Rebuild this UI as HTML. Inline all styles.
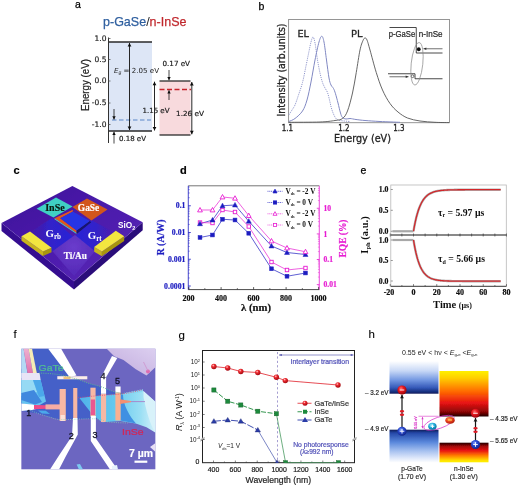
<!DOCTYPE html>
<html><head><meta charset="utf-8"><title>Figure</title>
<style>
html,body{margin:0;padding:0;background:#fff;}
svg{display:block;}
</style></head>
<body>
<svg width="520" height="486" viewBox="0 0 520 486">
<defs>
<filter id="soft" x="-2%" y="-2%" width="104%" height="104%"><feGaussianBlur stdDeviation="0.5"/></filter>
<linearGradient id="cTop" x1="0" y1="0" x2="1" y2="1"><stop offset="0" stop-color="#3c1298"/><stop offset="0.5" stop-color="#4c1cac"/><stop offset="1" stop-color="#5a28b8"/></linearGradient>
<radialGradient id="cTi" cx="0.5" cy="0.3" r="0.7"><stop offset="0" stop-color="#6a3ccc"/><stop offset="1" stop-color="#5428b6"/></radialGradient>
<linearGradient id="cG" x1="0" y1="0.5" x2="1" y2="0.5"><stop offset="0" stop-color="#3a1cb4" stop-opacity="0.1"/><stop offset="0.45" stop-color="#2c24d0" stop-opacity="0.9"/><stop offset="1" stop-color="#2424dc"/></linearGradient>
<linearGradient id="cG2" x1="1" y1="0.5" x2="0" y2="0.5"><stop offset="0" stop-color="#3a1cb4" stop-opacity="0.1"/><stop offset="0.45" stop-color="#2c24d0" stop-opacity="0.9"/><stop offset="1" stop-color="#2424dc"/></linearGradient>
<clipPath id="fClip"><rect x="21.2" y="348.5" width="134.4" height="121.1"/></clipPath>
<linearGradient id="fPink" x1="0" y1="0" x2="0" y2="1"><stop offset="0" stop-color="#eeb0d0"/><stop offset="1" stop-color="#e272ac"/></linearGradient>
<linearGradient id="fLav" x1="0" y1="1" x2="1" y2="0"><stop offset="0" stop-color="#c0aadc"/><stop offset="1" stop-color="#dccff0"/></linearGradient>
<linearGradient id="fCy" x1="0" y1="0" x2="1" y2="0"><stop offset="0" stop-color="#50b2ea"/><stop offset="0.45" stop-color="#62c8ee"/><stop offset="0.8" stop-color="#9adff4"/><stop offset="1" stop-color="#d4f0fa"/></linearGradient>
<clipPath id="gClip"><rect x="200" y="340" width="160" height="122.7"/></clipPath>
<radialGradient id="gBall" cx="0.38" cy="0.32" r="0.7"><stop offset="0" stop-color="#ffd0d0"/><stop offset="0.35" stop-color="#ee2a30"/><stop offset="1" stop-color="#a00810"/></radialGradient>
<linearGradient id="hB1" x1="0" y1="0" x2="0" y2="1"><stop offset="0" stop-color="#ffffff"/><stop offset="0.3" stop-color="#c8d8f6"/><stop offset="0.58" stop-color="#7498e2"/><stop offset="0.82" stop-color="#3458b8"/><stop offset="0.95" stop-color="#142a78"/><stop offset="1" stop-color="#0c1c58"/></linearGradient>
<linearGradient id="hB2" x1="0" y1="0" x2="0" y2="1"><stop offset="0" stop-color="#0c1c58"/><stop offset="0.1" stop-color="#2448a8"/><stop offset="0.38" stop-color="#5a88dc"/><stop offset="0.65" stop-color="#a8c2f0"/><stop offset="0.85" stop-color="#dce6fa"/><stop offset="1" stop-color="#ffffff"/></linearGradient>
<linearGradient id="hR1" x1="0" y1="0" x2="0" y2="1"><stop offset="0" stop-color="#fff000"/><stop offset="0.15" stop-color="#ffd000"/><stop offset="0.45" stop-color="#ff6a00"/><stop offset="0.7" stop-color="#e81414"/><stop offset="0.9" stop-color="#8a0606"/><stop offset="1" stop-color="#200000"/></linearGradient>
<linearGradient id="hR2" x1="0" y1="0" x2="0" y2="1"><stop offset="0" stop-color="#200000"/><stop offset="0.18" stop-color="#a00808"/><stop offset="0.4" stop-color="#e81414"/><stop offset="0.65" stop-color="#ff7a00"/><stop offset="0.9" stop-color="#ffe000"/><stop offset="1" stop-color="#fff200"/></linearGradient>
<radialGradient id="hRed" cx="0.4" cy="0.35" r="0.7"><stop offset="0" stop-color="#ff7070"/><stop offset="0.4" stop-color="#e81820"/><stop offset="1" stop-color="#8a0008"/></radialGradient>
<radialGradient id="hBlu" cx="0.4" cy="0.35" r="0.7"><stop offset="0" stop-color="#8aa8ff"/><stop offset="0.4" stop-color="#2a4ad0"/><stop offset="1" stop-color="#102080"/></radialGradient>
<radialGradient id="hCy" cx="0.4" cy="0.35" r="0.7"><stop offset="0" stop-color="#a0f0ff"/><stop offset="0.5" stop-color="#20a8d8"/><stop offset="1" stop-color="#0a6a98"/></radialGradient>
<radialGradient id="hOr" cx="0.4" cy="0.35" r="0.7"><stop offset="0" stop-color="#ff9a50"/><stop offset="0.5" stop-color="#e8401c"/><stop offset="1" stop-color="#a81808"/></radialGradient>
</defs>
<rect width="520" height="486" fill="#fff"/>
<g filter="url(#soft)">
<g id="pa">
<text x="75" y="7.9" font-size="10.5" font-family='"Liberation Sans", sans-serif' fill="#000" stroke="#000" stroke-width="0.25">a</text>
<text x="103" y="25.5" font-size="13.5" font-family='"Liberation Sans", sans-serif' textLength="83.5" lengthAdjust="spacingAndGlyphs" stroke-width="0.25"><tspan fill="#2f5f9f" stroke="#2f5f9f">p-GaSe</tspan><tspan fill="#222">/</tspan><tspan fill="#c0282d" stroke="#c0282d">n-InSe</tspan></text>
<rect x="109" y="42" width="43" height="89" fill="#dde6f6"/>
<rect x="159.5" y="81" width="31" height="54" fill="#f8dadd"/>
<line x1="108.5" y1="37.5" x2="108.5" y2="143" stroke="#333" stroke-width="1"/>
<line x1="108.5" y1="38.5" x2="110.5" y2="38.5" stroke="#555" stroke-width="0.8"/>
<text x="106.5" y="40.9" font-size="7.5" font-family='"DejaVu Sans", "Liberation Sans", sans-serif' fill="#222" text-anchor="end" stroke="#222" stroke-width="0.2">1.0</text>
<line x1="108.5" y1="59.5" x2="110.5" y2="59.5" stroke="#555" stroke-width="0.8"/>
<text x="106.5" y="61.9" font-size="7.5" font-family='"DejaVu Sans", "Liberation Sans", sans-serif' fill="#222" text-anchor="end" stroke="#222" stroke-width="0.2">0.5</text>
<line x1="108.5" y1="81" x2="110.5" y2="81" stroke="#555" stroke-width="0.8"/>
<text x="106.5" y="83.4" font-size="7.5" font-family='"DejaVu Sans", "Liberation Sans", sans-serif' fill="#222" text-anchor="end" stroke="#222" stroke-width="0.2">0.0</text>
<line x1="108.5" y1="103" x2="110.5" y2="103" stroke="#555" stroke-width="0.8"/>
<text x="106.5" y="105.4" font-size="7.5" font-family='"DejaVu Sans", "Liberation Sans", sans-serif' fill="#222" text-anchor="end" stroke="#222" stroke-width="0.2">-0.5</text>
<line x1="108.5" y1="124.5" x2="110.5" y2="124.5" stroke="#555" stroke-width="0.8"/>
<text x="106.5" y="126.9" font-size="7.5" font-family='"DejaVu Sans", "Liberation Sans", sans-serif' fill="#222" text-anchor="end" stroke="#222" stroke-width="0.2">-1.0</text>
<text x="88.5" y="85" font-size="10" font-family='"Liberation Sans", sans-serif' fill="#222" text-anchor="middle" transform="rotate(-90 88.5 85)" textLength="52" lengthAdjust="spacingAndGlyphs" stroke="#222" stroke-width="0.2">Energy (eV)</text>
<line x1="109" y1="42" x2="152" y2="42" stroke="#2a2a2a" stroke-width="1.3"/>
<line x1="109" y1="131" x2="152" y2="131" stroke="#2a2a2a" stroke-width="1.3"/>
<line x1="159.5" y1="81" x2="190.5" y2="81" stroke="#2a2a2a" stroke-width="1.3"/>
<line x1="159.5" y1="135" x2="190.5" y2="135" stroke="#2a2a2a" stroke-width="1.3"/>
<line x1="112" y1="120" x2="151" y2="120" stroke="#5b86c8" stroke-width="1.1" stroke-dasharray="4.5 2.5"/>
<line x1="159.5" y1="89.5" x2="191" y2="89.5" stroke="#c4202c" stroke-width="1.5" stroke-dasharray="5 2.5"/>
<line x1="129.5" y1="43" x2="129.5" y2="130" stroke="#111" stroke-width="0.9"/>
<polygon points="129.5,130 127.6,126.4 131.4,126.4" fill="#111"/>
<polygon points="129.5,43 131.4,46.6 127.6,46.6" fill="#111"/>
<line x1="114" y1="109" x2="114" y2="119.5" stroke="#111" stroke-width="0.8"/>
<polygon points="114,119.5 112.3,116.3 115.7,116.3" fill="#111"/>
<line x1="114" y1="143.5" x2="114" y2="131.7" stroke="#111" stroke-width="0.8"/>
<polygon points="114,131.7 115.7,134.9 112.3,134.9" fill="#111"/>
<line x1="169" y1="70" x2="169" y2="80.3" stroke="#111" stroke-width="0.8"/>
<polygon points="169,80.3 167.3,77.1 170.7,77.1" fill="#111"/>
<line x1="169" y1="100" x2="169" y2="90.3" stroke="#111" stroke-width="0.8"/>
<polygon points="169,90.3 170.7,93.5 167.3,93.5" fill="#111"/>
<line x1="154.5" y1="81.7" x2="154.5" y2="130.5" stroke="#111" stroke-width="0.9"/>
<polygon points="154.5,130.5 152.6,126.9 156.4,126.9" fill="#111"/>
<polygon points="154.5,81.7 156.4,85.3 152.6,85.3" fill="#111"/>
<line x1="191.8" y1="82" x2="191.8" y2="134.3" stroke="#111" stroke-width="0.9"/>
<polygon points="191.8,134.3 189.9,130.7 193.7,130.7" fill="#111"/>
<polygon points="191.8,82 193.7,85.6 189.9,85.6" fill="#111"/>
<text x="114" y="72.5" font-size="7" font-family='"DejaVu Sans", "Liberation Sans", sans-serif' fill="#222" textLength="45" lengthAdjust="spacingAndGlyphs"><tspan font-style="italic">E</tspan><tspan font-size="4.5" dy="1.5" font-style="italic">g</tspan><tspan dy="-1.5"> = 2.05 eV</tspan></text>
<text x="162.5" y="66.3" font-size="7" font-family='"DejaVu Sans", "Liberation Sans", sans-serif' fill="#222" textLength="27.5" lengthAdjust="spacingAndGlyphs" stroke="#222" stroke-width="0.2">0.17 eV</text>
<text x="142.5" y="112.5" font-size="7" font-family='"DejaVu Sans", "Liberation Sans", sans-serif' fill="#222" textLength="27" lengthAdjust="spacingAndGlyphs" stroke="#222" stroke-width="0.2">1.15 eV</text>
<text x="176" y="116.3" font-size="7" font-family='"DejaVu Sans", "Liberation Sans", sans-serif' fill="#222" textLength="28" lengthAdjust="spacingAndGlyphs" stroke="#222" stroke-width="0.2">1.26 eV</text>
<text x="119" y="140.5" font-size="7" font-family='"DejaVu Sans", "Liberation Sans", sans-serif' fill="#222" textLength="27" lengthAdjust="spacingAndGlyphs" stroke="#222" stroke-width="0.2">0.18 eV</text>
</g>
<g id="pb">
<text x="258.5" y="10" font-size="10.5" font-family='"Liberation Sans", sans-serif' fill="#000" stroke="#000" stroke-width="0.25">b</text>
<rect x="288.6" y="19.5" width="160.9" height="103.2" fill="none" stroke="#8a8a8a" stroke-width="0.9"/>
<path d="M288.75,115C289.29,114.17 290.96,111.67 292,110C293.04,108.33 293.92,107.5 295,105C296.08,102.5 297.25,98.75 298.5,95C299.75,91.25 301.25,87.33 302.5,82.5C303.75,77.67 304.96,71 306,66C307.04,61 307.92,56.5 308.75,52.5C309.58,48.5 310.29,44.58 311,42C311.71,39.42 312.33,36.83 313,37C313.67,37.17 314.25,39.17 315,43C315.75,46.83 316.67,55 317.5,60C318.33,65 319.17,69.25 320,73C320.83,76.75 321.67,80 322.5,82.5C323.33,85 324.17,86.33 325,88C325.83,89.67 326.75,90.5 327.5,92.5C328.25,94.5 328.88,97.5 329.5,100C330.12,102.5 330.58,105.17 331.25,107.5C331.92,109.83 332.67,112.12 333.5,114C334.33,115.88 335.17,117.67 336.25,118.75C337.33,119.83 337.71,120.04 340,120.5C342.29,120.96 348.33,121.33 350,121.5" fill="none" stroke="#9298cc" stroke-width="1" stroke-linejoin="round" stroke-dasharray="1.2 1"/>
<path d="M288.75,121.5C289.79,121 292.71,120.25 295,118.5C297.29,116.75 300.5,114.08 302.5,111C304.5,107.92 305.58,104.83 307,100C308.42,95.17 309.67,88.67 311,82C312.33,75.33 313.67,66.67 315,60C316.33,53.33 317.88,45.96 319,42C320.12,38.04 320.92,36.25 321.75,36.25C322.58,36.25 323.21,38.04 324,42C324.79,45.96 325.67,54 326.5,60C327.33,66 328.25,73.83 329,78C329.75,82.17 330.25,83.25 331,85C331.75,86.75 332.75,87.04 333.5,88.5C334.25,89.96 334.75,91.33 335.5,93.75C336.25,96.17 337.17,99.79 338,103C338.83,106.21 339.75,110.58 340.5,113C341.25,115.42 341.58,116.5 342.5,117.5C343.42,118.5 344.75,118.83 346,119C347.25,119.17 348.33,118.42 350,118.5C351.67,118.58 353.5,119.17 356,119.5C358.5,119.83 361,120.17 365,120.5C369,120.83 374.17,121.2 380,121.5C385.83,121.8 396.67,122.17 400,122.3" fill="none" stroke="#8088c2" stroke-width="1" stroke-linejoin="round"/>
<path d="M288.75,122.3C293.96,122.25 312.29,122.3 320,122C327.71,121.7 331.25,121.08 335,120.5C338.75,119.92 340.42,120.08 342.5,118.5C344.58,116.92 345.83,115.25 347.5,111C349.17,106.75 351.04,99.42 352.5,93C353.96,86.58 355,79.67 356.25,72.5C357.5,65.33 358.88,55.33 360,50C361.12,44.67 362.17,42.5 363,40.5C363.83,38.5 364.33,38.08 365,38C365.67,37.92 366.17,38 367,40C367.83,42 368.46,44.58 370,50C371.54,55.42 374.17,65.83 376.25,72.5C378.33,79.17 380.21,84.83 382.5,90C384.79,95.17 387.42,99.83 390,103.5C392.58,107.17 395.08,109.58 398,112C400.92,114.42 403.83,116.5 407.5,118C411.17,119.5 415.42,120.28 420,121C424.58,121.72 430.17,122.03 435,122.3C439.83,122.57 446.67,122.55 449,122.6" fill="none" stroke="#555" stroke-width="0.9" stroke-linejoin="round"/>
<text x="297.5" y="37" font-size="9.5" font-family='"DejaVu Sans", "Liberation Sans", sans-serif' fill="#222" textLength="11.5" lengthAdjust="spacingAndGlyphs" stroke="#222" stroke-width="0.3">EL</text>
<text x="351" y="37" font-size="9.5" font-family='"DejaVu Sans", "Liberation Sans", sans-serif' fill="#222" textLength="11.5" lengthAdjust="spacingAndGlyphs" stroke="#222" stroke-width="0.3">PL</text>
<text x="287.5" y="131.3" font-size="8" font-family='"DejaVu Sans", "Liberation Sans", sans-serif' fill="#222" text-anchor="middle" textLength="11.3" lengthAdjust="spacingAndGlyphs" stroke="#222" stroke-width="0.3">1.1</text>
<text x="344" y="131.3" font-size="8" font-family='"DejaVu Sans", "Liberation Sans", sans-serif' fill="#222" text-anchor="middle" textLength="11.3" lengthAdjust="spacingAndGlyphs" stroke="#222" stroke-width="0.3">1.2</text>
<text x="399" y="131.3" font-size="8" font-family='"DejaVu Sans", "Liberation Sans", sans-serif' fill="#222" text-anchor="middle" textLength="11.3" lengthAdjust="spacingAndGlyphs" stroke="#222" stroke-width="0.3">1.3</text>
<text x="362.5" y="141.8" font-size="10.5" font-family='"DejaVu Sans", "Liberation Sans", sans-serif' fill="#222" text-anchor="middle" textLength="57" lengthAdjust="spacingAndGlyphs" stroke="#222" stroke-width="0.3">Energy (eV)</text>
<text x="285" y="70" font-size="9.8" font-family='"DejaVu Sans", "Liberation Sans", sans-serif' fill="#222" text-anchor="middle" transform="rotate(-90 285 70)" textLength="93" lengthAdjust="spacingAndGlyphs" stroke="#222" stroke-width="0.3">Intensity (arb.units)</text>
<polyline points="389.5,27.5 416.25,27.5 416.25,53 442.5,53" fill="none" stroke="#333" stroke-width="0.9" stroke-linejoin="round"/>
<polyline points="388,73.75 415,73.75 415,78.75 442.5,78.75" fill="none" stroke="#333" stroke-width="0.9" stroke-linejoin="round"/>
<text x="388.75" y="37.3" font-size="9.2" font-family='"Liberation Sans", sans-serif' fill="#222" textLength="26.5" lengthAdjust="spacingAndGlyphs" stroke="#222" stroke-width="0.2">p-GaSe</text>
<text x="418.75" y="37.3" font-size="9.2" font-family='"Liberation Sans", sans-serif' fill="#222" textLength="23.75" lengthAdjust="spacingAndGlyphs" stroke="#222" stroke-width="0.2">n-InSe</text>
<circle cx="418.75" cy="49.25" r="1.9" fill="#111"/>
<circle cx="412.5" cy="76.25" r="1.4" fill="#fff" stroke="#333" stroke-width="0.7"/>
<line x1="442.5" y1="48.75" x2="423.5" y2="48.75" stroke="#333" stroke-width="0.7"/>
<polygon points="423.5,48.75 426.3,47.45 426.3,50.05" fill="#333"/>
<line x1="389.5" y1="76.75" x2="408.5" y2="76.75" stroke="#333" stroke-width="0.7"/>
<polygon points="408.5,76.75 405.7,78.05 405.7,75.45" fill="#333"/>
<ellipse cx="417" cy="63.75" rx="5.8" ry="21.3" fill="none" stroke="#888" stroke-width="0.7" transform="rotate(6 417 63.75)"/>
</g>
<g id="pc">
<text x="13.5" y="174" font-size="11" font-family='"Liberation Sans", sans-serif' fill="#000" font-weight="bold" stroke="#000" stroke-width="0.2">c</text>
<polygon points="1.5,223 74,281.2 74,289.6 1.5,230.9" fill="#360e90"/>
<polygon points="74,281.2 142.7,222.3 142.7,230.2 74,289.6" fill="#2c0a7a"/>
<polygon points="1.5,223 72.4,186 142.7,222.3 74,281.2" fill="url(#cTop)"/>
<polygon points="52,218 74,237.5 51.7,251.4 29,233" fill="url(#cG)" opacity="0.9"/>
<polygon points="91.4,220.3 115,232.5 94,251.4 74,237.5" fill="url(#cG2)" opacity="0.9"/>
<polygon points="75,235 95,251.3 74,276 52.5,251.3" fill="url(#cTi)"/>
<polygon points="36.6,208.7 56,197.5 72.6,206.5 53.5,217.6" fill="#3fd0c4"/>
<polygon points="72.4,207 87,198.4 107.5,209.6 91.4,220.5" fill="#d2561e"/>
<polygon points="54.5,218.2 72.8,209.7 72.8,211.8 60.2,218.2 76.6,230.4 76.6,232.9" fill="#e2581e"/>
<polygon points="54.5,218.2 76.6,232.9 76.6,234 54.5,219.3" fill="#48d4c4"/>
<polygon points="76.6,230.4 89.7,221.1 91.2,222.3 76.6,234" fill="#14146e"/>
<polygon points="72.8,211.6 60.2,218.2 76.6,230.4 89.7,221.1" fill="#2636e4"/>
<polygon points="21.5,236.2 43,251.5 43,256.1 21.5,240.8" fill="#c8b41c"/>
<polygon points="43,251.5 51.5,247.7 51.5,252.3 43,256.1" fill="#a8960e"/>
<polygon points="21.5,236.2 30,231.5 51.5,247.7 43,251.5" fill="#f3e640"/>
<polygon points="94.2,246.9 101.9,251.5 101.9,256.3 94.2,251.7" fill="#c8b41c"/>
<polygon points="101.9,251.5 124.2,236.2 124.2,241 101.9,256.3" fill="#a8960e"/>
<polygon points="94.2,246.9 115.8,230.8 124.2,236.2 101.9,251.5" fill="#f3e640"/>
<text x="45.2" y="211" font-size="10.3" font-family='"Liberation Serif", serif' fill="#0a1a10" font-weight="bold" textLength="19.5" lengthAdjust="spacingAndGlyphs" stroke="#0a1a10" stroke-width="0.2">InSe</text>
<text x="77.8" y="210.5" font-size="10.3" font-family='"Liberation Serif", serif' fill="#fff" font-weight="bold" textLength="21.5" lengthAdjust="spacingAndGlyphs" stroke="#fff" stroke-width="0.2">GaSe</text>
<text x="45.4" y="237.3" textLength="15.6" lengthAdjust="spacingAndGlyphs" font-size="11" font-family='"Liberation Serif", serif' font-weight="bold" fill="#fff">G<tspan font-size="7.2" dy="2">rb</tspan></text>
<text x="87.7" y="238.8" textLength="14" lengthAdjust="spacingAndGlyphs" font-size="11" font-family='"Liberation Serif", serif' font-weight="bold" fill="#fff">G<tspan font-size="7.2" dy="2">rt</tspan></text>
<text x="63.8" y="258.8" font-size="10" font-family='"Liberation Serif", serif' fill="#fff" font-weight="bold" textLength="23" lengthAdjust="spacingAndGlyphs" stroke="#fff" stroke-width="0.2">Ti/Au</text>
<text x="118" y="227.8" textLength="17.3" lengthAdjust="spacingAndGlyphs" font-size="9" font-family='"Liberation Sans", sans-serif' font-weight="bold" fill="#fff">SiO<tspan font-size="6" dy="1.8">2</tspan></text>
</g>
<g id="pd">
<text x="180" y="174" font-size="11" font-family='"Liberation Sans", sans-serif' fill="#000" font-weight="bold" stroke="#000" stroke-width="0.2">d</text>
<line x1="188.3" y1="185.8" x2="319.3" y2="185.8" stroke="#666" stroke-width="0.9"/>
<line x1="188.3" y1="289.6" x2="319.3" y2="289.6" stroke="#333" stroke-width="0.9"/>
<line x1="188.3" y1="185.8" x2="188.3" y2="289.6" stroke="#1c1cc0" stroke-width="1" opacity="0.8"/>
<line x1="319.3" y1="185.8" x2="319.3" y2="289.6" stroke="#e61ed2" stroke-width="1" opacity="0.8"/>
<line x1="188.3" y1="205.75" x2="190.8" y2="205.75" stroke="#1c1cc0" stroke-width="0.8"/>
<text x="185.5" y="208.35" font-size="7.8" font-family='"Liberation Serif", serif' fill="#1c1cc0" font-weight="bold" text-anchor="end" stroke="#1c1cc0" stroke-width="0.2">0.1</text>
<line x1="188.3" y1="232.5" x2="190.8" y2="232.5" stroke="#1c1cc0" stroke-width="0.8"/>
<text x="185.5" y="235.1" font-size="7.8" font-family='"Liberation Serif", serif' fill="#1c1cc0" font-weight="bold" text-anchor="end" stroke="#1c1cc0" stroke-width="0.2">0.01</text>
<line x1="188.3" y1="259.25" x2="190.8" y2="259.25" stroke="#1c1cc0" stroke-width="0.8"/>
<text x="185.5" y="261.85" font-size="7.8" font-family='"Liberation Serif", serif' fill="#1c1cc0" font-weight="bold" text-anchor="end" stroke="#1c1cc0" stroke-width="0.2">0.001</text>
<line x1="188.3" y1="286" x2="190.8" y2="286" stroke="#1c1cc0" stroke-width="0.8"/>
<text x="185.5" y="288.6" font-size="7.8" font-family='"Liberation Serif", serif' fill="#1c1cc0" font-weight="bold" text-anchor="end" stroke="#1c1cc0" stroke-width="0.2">0.0001</text>
<line x1="316.8" y1="208.25" x2="319.3" y2="208.25" stroke="#e61ed2" stroke-width="0.8"/>
<text x="323.5" y="210.85" font-size="7.6" font-family='"Liberation Serif", serif' fill="#e61ed2" font-weight="bold" stroke="#e61ed2" stroke-width="0.2">10</text>
<line x1="316.8" y1="233.9" x2="319.3" y2="233.9" stroke="#e61ed2" stroke-width="0.8"/>
<text x="323.5" y="236.5" font-size="7.6" font-family='"Liberation Serif", serif' fill="#e61ed2" font-weight="bold" stroke="#e61ed2" stroke-width="0.2">1</text>
<line x1="316.8" y1="259.5" x2="319.3" y2="259.5" stroke="#e61ed2" stroke-width="0.8"/>
<text x="323.5" y="262.1" font-size="7.6" font-family='"Liberation Serif", serif' fill="#e61ed2" font-weight="bold" stroke="#e61ed2" stroke-width="0.2">0.1</text>
<line x1="316.8" y1="284.6" x2="319.3" y2="284.6" stroke="#e61ed2" stroke-width="0.8"/>
<text x="323.5" y="287.2" font-size="7.6" font-family='"Liberation Serif", serif' fill="#e61ed2" font-weight="bold" stroke="#e61ed2" stroke-width="0.2">0.01</text>
<line x1="188.3" y1="197.7" x2="189.7" y2="197.7" stroke="#1c1cc0" stroke-width="0.5"/>
<line x1="317.9" y1="200.57" x2="319.3" y2="200.57" stroke="#e61ed2" stroke-width="0.5"/>
<line x1="188.3" y1="192.99" x2="189.7" y2="192.99" stroke="#1c1cc0" stroke-width="0.5"/>
<line x1="317.9" y1="196.08" x2="319.3" y2="196.08" stroke="#e61ed2" stroke-width="0.5"/>
<line x1="188.3" y1="189.64" x2="189.7" y2="189.64" stroke="#1c1cc0" stroke-width="0.5"/>
<line x1="317.9" y1="192.9" x2="319.3" y2="192.9" stroke="#e61ed2" stroke-width="0.5"/>
<line x1="188.3" y1="187.05" x2="189.7" y2="187.05" stroke="#1c1cc0" stroke-width="0.5"/>
<line x1="317.9" y1="190.43" x2="319.3" y2="190.43" stroke="#e61ed2" stroke-width="0.5"/>
<line x1="317.9" y1="188.41" x2="319.3" y2="188.41" stroke="#e61ed2" stroke-width="0.5"/>
<line x1="188.3" y1="224.45" x2="189.7" y2="224.45" stroke="#1c1cc0" stroke-width="0.5"/>
<line x1="317.9" y1="226.07" x2="319.3" y2="226.07" stroke="#e61ed2" stroke-width="0.5"/>
<line x1="188.3" y1="219.74" x2="189.7" y2="219.74" stroke="#1c1cc0" stroke-width="0.5"/>
<line x1="317.9" y1="221.58" x2="319.3" y2="221.58" stroke="#e61ed2" stroke-width="0.5"/>
<line x1="188.3" y1="216.39" x2="189.7" y2="216.39" stroke="#1c1cc0" stroke-width="0.5"/>
<line x1="317.9" y1="218.4" x2="319.3" y2="218.4" stroke="#e61ed2" stroke-width="0.5"/>
<line x1="188.3" y1="213.8" x2="189.7" y2="213.8" stroke="#1c1cc0" stroke-width="0.5"/>
<line x1="317.9" y1="215.93" x2="319.3" y2="215.93" stroke="#e61ed2" stroke-width="0.5"/>
<line x1="188.3" y1="211.68" x2="189.7" y2="211.68" stroke="#1c1cc0" stroke-width="0.5"/>
<line x1="317.9" y1="213.91" x2="319.3" y2="213.91" stroke="#e61ed2" stroke-width="0.5"/>
<line x1="188.3" y1="209.89" x2="189.7" y2="209.89" stroke="#1c1cc0" stroke-width="0.5"/>
<line x1="317.9" y1="212.2" x2="319.3" y2="212.2" stroke="#e61ed2" stroke-width="0.5"/>
<line x1="188.3" y1="208.34" x2="189.7" y2="208.34" stroke="#1c1cc0" stroke-width="0.5"/>
<line x1="317.9" y1="210.72" x2="319.3" y2="210.72" stroke="#e61ed2" stroke-width="0.5"/>
<line x1="188.3" y1="206.97" x2="189.7" y2="206.97" stroke="#1c1cc0" stroke-width="0.5"/>
<line x1="317.9" y1="209.42" x2="319.3" y2="209.42" stroke="#e61ed2" stroke-width="0.5"/>
<line x1="188.3" y1="251.2" x2="189.7" y2="251.2" stroke="#1c1cc0" stroke-width="0.5"/>
<line x1="317.9" y1="251.57" x2="319.3" y2="251.57" stroke="#e61ed2" stroke-width="0.5"/>
<line x1="188.3" y1="246.49" x2="189.7" y2="246.49" stroke="#1c1cc0" stroke-width="0.5"/>
<line x1="317.9" y1="247.08" x2="319.3" y2="247.08" stroke="#e61ed2" stroke-width="0.5"/>
<line x1="188.3" y1="243.14" x2="189.7" y2="243.14" stroke="#1c1cc0" stroke-width="0.5"/>
<line x1="317.9" y1="243.9" x2="319.3" y2="243.9" stroke="#e61ed2" stroke-width="0.5"/>
<line x1="188.3" y1="240.55" x2="189.7" y2="240.55" stroke="#1c1cc0" stroke-width="0.5"/>
<line x1="317.9" y1="241.43" x2="319.3" y2="241.43" stroke="#e61ed2" stroke-width="0.5"/>
<line x1="188.3" y1="238.43" x2="189.7" y2="238.43" stroke="#1c1cc0" stroke-width="0.5"/>
<line x1="317.9" y1="239.41" x2="319.3" y2="239.41" stroke="#e61ed2" stroke-width="0.5"/>
<line x1="188.3" y1="236.64" x2="189.7" y2="236.64" stroke="#1c1cc0" stroke-width="0.5"/>
<line x1="317.9" y1="237.7" x2="319.3" y2="237.7" stroke="#e61ed2" stroke-width="0.5"/>
<line x1="188.3" y1="235.09" x2="189.7" y2="235.09" stroke="#1c1cc0" stroke-width="0.5"/>
<line x1="317.9" y1="236.22" x2="319.3" y2="236.22" stroke="#e61ed2" stroke-width="0.5"/>
<line x1="188.3" y1="233.72" x2="189.7" y2="233.72" stroke="#1c1cc0" stroke-width="0.5"/>
<line x1="317.9" y1="234.92" x2="319.3" y2="234.92" stroke="#e61ed2" stroke-width="0.5"/>
<line x1="188.3" y1="277.95" x2="189.7" y2="277.95" stroke="#1c1cc0" stroke-width="0.5"/>
<line x1="317.9" y1="277.07" x2="319.3" y2="277.07" stroke="#e61ed2" stroke-width="0.5"/>
<line x1="188.3" y1="273.24" x2="189.7" y2="273.24" stroke="#1c1cc0" stroke-width="0.5"/>
<line x1="317.9" y1="272.58" x2="319.3" y2="272.58" stroke="#e61ed2" stroke-width="0.5"/>
<line x1="188.3" y1="269.89" x2="189.7" y2="269.89" stroke="#1c1cc0" stroke-width="0.5"/>
<line x1="317.9" y1="269.4" x2="319.3" y2="269.4" stroke="#e61ed2" stroke-width="0.5"/>
<line x1="188.3" y1="267.3" x2="189.7" y2="267.3" stroke="#1c1cc0" stroke-width="0.5"/>
<line x1="317.9" y1="266.93" x2="319.3" y2="266.93" stroke="#e61ed2" stroke-width="0.5"/>
<line x1="188.3" y1="265.18" x2="189.7" y2="265.18" stroke="#1c1cc0" stroke-width="0.5"/>
<line x1="317.9" y1="264.91" x2="319.3" y2="264.91" stroke="#e61ed2" stroke-width="0.5"/>
<line x1="188.3" y1="263.39" x2="189.7" y2="263.39" stroke="#1c1cc0" stroke-width="0.5"/>
<line x1="317.9" y1="263.2" x2="319.3" y2="263.2" stroke="#e61ed2" stroke-width="0.5"/>
<line x1="188.3" y1="261.84" x2="189.7" y2="261.84" stroke="#1c1cc0" stroke-width="0.5"/>
<line x1="317.9" y1="261.72" x2="319.3" y2="261.72" stroke="#e61ed2" stroke-width="0.5"/>
<line x1="188.3" y1="260.47" x2="189.7" y2="260.47" stroke="#1c1cc0" stroke-width="0.5"/>
<line x1="317.9" y1="260.42" x2="319.3" y2="260.42" stroke="#e61ed2" stroke-width="0.5"/>
<line x1="188.3" y1="288.59" x2="189.7" y2="288.59" stroke="#1c1cc0" stroke-width="0.5"/>
<line x1="317.9" y1="287.22" x2="319.3" y2="287.22" stroke="#e61ed2" stroke-width="0.5"/>
<line x1="188.3" y1="287.22" x2="189.7" y2="287.22" stroke="#1c1cc0" stroke-width="0.5"/>
<line x1="317.9" y1="285.92" x2="319.3" y2="285.92" stroke="#e61ed2" stroke-width="0.5"/>
<line x1="188.6" y1="289.6" x2="188.6" y2="287.1" stroke="#333" stroke-width="0.8"/>
<text x="188.6" y="301" font-size="8" font-family='"Liberation Serif", serif' fill="#111" font-weight="bold" text-anchor="middle" stroke="#111" stroke-width="0.2">200</text>
<line x1="221.1" y1="289.6" x2="221.1" y2="287.1" stroke="#333" stroke-width="0.8"/>
<text x="221.1" y="301" font-size="8" font-family='"Liberation Serif", serif' fill="#111" font-weight="bold" text-anchor="middle" stroke="#111" stroke-width="0.2">400</text>
<line x1="253.6" y1="289.6" x2="253.6" y2="287.1" stroke="#333" stroke-width="0.8"/>
<text x="253.6" y="301" font-size="8" font-family='"Liberation Serif", serif' fill="#111" font-weight="bold" text-anchor="middle" stroke="#111" stroke-width="0.2">600</text>
<line x1="286.1" y1="289.6" x2="286.1" y2="287.1" stroke="#333" stroke-width="0.8"/>
<text x="286.1" y="301" font-size="8" font-family='"Liberation Serif", serif' fill="#111" font-weight="bold" text-anchor="middle" stroke="#111" stroke-width="0.2">800</text>
<line x1="318.6" y1="289.6" x2="318.6" y2="287.1" stroke="#333" stroke-width="0.8"/>
<text x="318.6" y="301" font-size="8" font-family='"Liberation Serif", serif' fill="#111" font-weight="bold" text-anchor="middle" stroke="#111" stroke-width="0.2">1000</text>
<line x1="204.85" y1="289.6" x2="204.85" y2="288.1" stroke="#333" stroke-width="0.7"/>
<line x1="237.35" y1="289.6" x2="237.35" y2="288.1" stroke="#333" stroke-width="0.7"/>
<line x1="269.85" y1="289.6" x2="269.85" y2="288.1" stroke="#333" stroke-width="0.7"/>
<line x1="302.35" y1="289.6" x2="302.35" y2="288.1" stroke="#333" stroke-width="0.7"/>
<text x="163.7" y="237.5" font-size="10.5" font-family='"Liberation Serif", serif' fill="#1c1cc0" font-weight="bold" text-anchor="middle" transform="rotate(-90 163.7 237.5)" textLength="36" lengthAdjust="spacingAndGlyphs" stroke="#1c1cc0" stroke-width="0.2">R (A/W)</text>
<text x="346.3" y="238.5" font-size="10.5" font-family='"Liberation Serif", serif' fill="#e61ed2" font-weight="bold" text-anchor="middle" transform="rotate(-90 346.3 238.5)" textLength="38" lengthAdjust="spacingAndGlyphs" stroke="#e61ed2" stroke-width="0.2">EQE (%)</text>
<text x="256" y="311" font-size="10.5" font-family='"Liberation Serif", serif' fill="#111" font-weight="bold" text-anchor="middle" textLength="30" lengthAdjust="spacingAndGlyphs" stroke="#111" stroke-width="0.2">λ (nm)</text>
<polyline points="200,223.75 212.5,220 222.5,205.75 235,205 248.75,221.25 271.5,246 287,252.5 305.5,254.5" fill="none" stroke="#1c1cc0" stroke-width="0.7" stroke-linejoin="round"/>
<polyline points="200,237.5 212.5,235 222.5,219.25 235,220 248.75,233.25 271.5,268.75 287,276.25 305.5,273" fill="none" stroke="#1c1cc0" stroke-width="0.7" stroke-linejoin="round"/>
<polyline points="200,210 212.5,210 222.5,197 235,198.25 248.75,215.6 271.5,241 287,248 305.5,251.75" fill="none" stroke="#e61ed2" stroke-width="0.7" stroke-linejoin="round"/>
<polyline points="200,222.5 212.5,223 222.5,210 235,212 248.75,226.5 271.5,262 287,270 305.5,268" fill="none" stroke="#e61ed2" stroke-width="0.7" stroke-linejoin="round"/>
<rect x="198.1" y="235.6" width="3.8" height="3.8" fill="#1c1cc0" stroke="#1c1cc0" stroke-width="0.5"/>
<rect x="210.6" y="233.1" width="3.8" height="3.8" fill="#1c1cc0" stroke="#1c1cc0" stroke-width="0.5"/>
<rect x="220.6" y="217.35" width="3.8" height="3.8" fill="#1c1cc0" stroke="#1c1cc0" stroke-width="0.5"/>
<rect x="233.1" y="218.1" width="3.8" height="3.8" fill="#1c1cc0" stroke="#1c1cc0" stroke-width="0.5"/>
<rect x="246.85" y="231.35" width="3.8" height="3.8" fill="#1c1cc0" stroke="#1c1cc0" stroke-width="0.5"/>
<rect x="269.6" y="266.85" width="3.8" height="3.8" fill="#1c1cc0" stroke="#1c1cc0" stroke-width="0.5"/>
<rect x="285.1" y="274.35" width="3.8" height="3.8" fill="#1c1cc0" stroke="#1c1cc0" stroke-width="0.5"/>
<rect x="303.6" y="271.1" width="3.8" height="3.8" fill="#1c1cc0" stroke="#1c1cc0" stroke-width="0.5"/>
<rect x="198.3" y="220.8" width="3.4" height="3.4" fill="#fff" stroke="#e61ed2" stroke-width="0.9"/>
<rect x="210.8" y="221.3" width="3.4" height="3.4" fill="#fff" stroke="#e61ed2" stroke-width="0.9"/>
<rect x="220.8" y="208.3" width="3.4" height="3.4" fill="#fff" stroke="#e61ed2" stroke-width="0.9"/>
<rect x="233.3" y="210.3" width="3.4" height="3.4" fill="#fff" stroke="#e61ed2" stroke-width="0.9"/>
<rect x="247.05" y="224.8" width="3.4" height="3.4" fill="#fff" stroke="#e61ed2" stroke-width="0.9"/>
<rect x="269.8" y="260.3" width="3.4" height="3.4" fill="#fff" stroke="#e61ed2" stroke-width="0.9"/>
<rect x="285.3" y="268.3" width="3.4" height="3.4" fill="#fff" stroke="#e61ed2" stroke-width="0.9"/>
<rect x="303.8" y="266.3" width="3.4" height="3.4" fill="#fff" stroke="#e61ed2" stroke-width="0.9"/>
<polygon points="200,221.15 202.47,225.7 197.53,225.7" fill="#1c1cc0" stroke="#1c1cc0" stroke-width="0.5"/>
<polygon points="212.5,217.4 214.97,221.95 210.03,221.95" fill="#1c1cc0" stroke="#1c1cc0" stroke-width="0.5"/>
<polygon points="222.5,203.15 224.97,207.7 220.03,207.7" fill="#1c1cc0" stroke="#1c1cc0" stroke-width="0.5"/>
<polygon points="235,202.4 237.47,206.95 232.53,206.95" fill="#1c1cc0" stroke="#1c1cc0" stroke-width="0.5"/>
<polygon points="248.75,218.65 251.22,223.2 246.28,223.2" fill="#1c1cc0" stroke="#1c1cc0" stroke-width="0.5"/>
<polygon points="271.5,243.4 273.97,247.95 269.03,247.95" fill="#1c1cc0" stroke="#1c1cc0" stroke-width="0.5"/>
<polygon points="287,249.9 289.47,254.45 284.53,254.45" fill="#1c1cc0" stroke="#1c1cc0" stroke-width="0.5"/>
<polygon points="305.5,251.9 307.97,256.45 303.03,256.45" fill="#1c1cc0" stroke="#1c1cc0" stroke-width="0.5"/>
<polygon points="200,207.5 202.38,211.88 197.62,211.88" fill="#fff" stroke="#e61ed2" stroke-width="0.9"/>
<polygon points="212.5,207.5 214.88,211.88 210.12,211.88" fill="#fff" stroke="#e61ed2" stroke-width="0.9"/>
<polygon points="222.5,194.5 224.88,198.88 220.12,198.88" fill="#fff" stroke="#e61ed2" stroke-width="0.9"/>
<polygon points="235,195.75 237.38,200.12 232.62,200.12" fill="#fff" stroke="#e61ed2" stroke-width="0.9"/>
<polygon points="248.75,213.1 251.12,217.47 246.38,217.47" fill="#fff" stroke="#e61ed2" stroke-width="0.9"/>
<polygon points="271.5,238.5 273.88,242.88 269.12,242.88" fill="#fff" stroke="#e61ed2" stroke-width="0.9"/>
<polygon points="287,245.5 289.38,249.88 284.62,249.88" fill="#fff" stroke="#e61ed2" stroke-width="0.9"/>
<polygon points="305.5,249.25 307.88,253.62 303.12,253.62" fill="#fff" stroke="#e61ed2" stroke-width="0.9"/>
<line x1="267.5" y1="191.3" x2="282.5" y2="191.3" stroke="#1c1cc0" stroke-width="0.7" stroke-dasharray="1 0.8"/>
<polygon points="275,189.2 277,192.88 273,192.88" fill="#1c1cc0" stroke="#1c1cc0" stroke-width="0.8"/>
<text x="285.5" y="193.7" font-size="7.3" font-family='"Liberation Serif", serif' font-weight="bold" fill="#111">V<tspan font-size="4" dy="1.5">ds</tspan><tspan dy="-1.5"> = -2 V</tspan></text>
<line x1="267.5" y1="202.5" x2="282.5" y2="202.5" stroke="#1c1cc0" stroke-width="0.7" stroke-dasharray="1 0.8"/>
<rect x="273.4" y="200.9" width="3.2" height="3.2" fill="#1c1cc0" stroke="#1c1cc0" stroke-width="0.8"/>
<text x="285.5" y="204.9" font-size="7.3" font-family='"Liberation Serif", serif' font-weight="bold" fill="#111">V<tspan font-size="4" dy="1.5">ds</tspan><tspan dy="-1.5"> = 0 V</tspan></text>
<line x1="267.5" y1="213.75" x2="282.5" y2="213.75" stroke="#e61ed2" stroke-width="0.7" stroke-dasharray="1 0.8"/>
<polygon points="275,211.65 277,215.32 273,215.32" fill="#fff" stroke="#e61ed2" stroke-width="0.8"/>
<text x="285.5" y="216.15" font-size="7.3" font-family='"Liberation Serif", serif' font-weight="bold" fill="#111">V<tspan font-size="4" dy="1.5">ds</tspan><tspan dy="-1.5"> = -2 V</tspan></text>
<line x1="267.5" y1="225" x2="282.5" y2="225" stroke="#e61ed2" stroke-width="0.7" stroke-dasharray="1 0.8"/>
<rect x="273.4" y="223.4" width="3.2" height="3.2" fill="#fff" stroke="#e61ed2" stroke-width="0.8"/>
<text x="285.5" y="227.4" font-size="7.3" font-family='"Liberation Serif", serif' font-weight="bold" fill="#111">V<tspan font-size="4" dy="1.5">ds</tspan><tspan dy="-1.5"> = 0 V</tspan></text>
</g>
<g id="pe">
<text x="360.5" y="174" font-size="10.5" font-family='"Liberation Sans", sans-serif' fill="#000" stroke="#000" stroke-width="0.25">e</text>
<rect x="390.8" y="185" width="115.5" height="101.3" fill="none" stroke="#b8b8b8" stroke-width="0.8"/>
<line x1="390.8" y1="235" x2="506.3" y2="235" stroke="#111" stroke-width="1.2"/>
<line x1="390.8" y1="286.3" x2="506.3" y2="286.3" stroke="#333" stroke-width="0.9"/>
<line x1="390.25" y1="233.5" x2="390.25" y2="236.5" stroke="#333" stroke-width="0.6"/>
<line x1="390.25" y1="286.3" x2="390.25" y2="284.1" stroke="#333" stroke-width="0.6"/>
<line x1="401.88" y1="233.5" x2="401.88" y2="236.5" stroke="#333" stroke-width="0.6"/>
<line x1="401.88" y1="286.3" x2="401.88" y2="285" stroke="#333" stroke-width="0.6"/>
<line x1="413.5" y1="233.5" x2="413.5" y2="236.5" stroke="#333" stroke-width="0.6"/>
<line x1="413.5" y1="286.3" x2="413.5" y2="284.1" stroke="#333" stroke-width="0.6"/>
<line x1="425.12" y1="233.5" x2="425.12" y2="236.5" stroke="#333" stroke-width="0.6"/>
<line x1="425.12" y1="286.3" x2="425.12" y2="285" stroke="#333" stroke-width="0.6"/>
<line x1="436.75" y1="233.5" x2="436.75" y2="236.5" stroke="#333" stroke-width="0.6"/>
<line x1="436.75" y1="286.3" x2="436.75" y2="284.1" stroke="#333" stroke-width="0.6"/>
<line x1="448.38" y1="233.5" x2="448.38" y2="236.5" stroke="#333" stroke-width="0.6"/>
<line x1="448.38" y1="286.3" x2="448.38" y2="285" stroke="#333" stroke-width="0.6"/>
<line x1="460" y1="233.5" x2="460" y2="236.5" stroke="#333" stroke-width="0.6"/>
<line x1="460" y1="286.3" x2="460" y2="284.1" stroke="#333" stroke-width="0.6"/>
<line x1="471.62" y1="233.5" x2="471.62" y2="236.5" stroke="#333" stroke-width="0.6"/>
<line x1="471.62" y1="286.3" x2="471.62" y2="285" stroke="#333" stroke-width="0.6"/>
<line x1="483.25" y1="233.5" x2="483.25" y2="236.5" stroke="#333" stroke-width="0.6"/>
<line x1="483.25" y1="286.3" x2="483.25" y2="284.1" stroke="#333" stroke-width="0.6"/>
<line x1="494.88" y1="233.5" x2="494.88" y2="236.5" stroke="#333" stroke-width="0.6"/>
<line x1="494.88" y1="286.3" x2="494.88" y2="285" stroke="#333" stroke-width="0.6"/>
<line x1="506.5" y1="233.5" x2="506.5" y2="236.5" stroke="#333" stroke-width="0.6"/>
<line x1="506.5" y1="286.3" x2="506.5" y2="284.1" stroke="#333" stroke-width="0.6"/>
<text x="388.5" y="192.1" font-size="7.8" font-family='"Liberation Serif", serif' fill="#111" font-weight="bold" text-anchor="end" stroke="#111" stroke-width="0.2">1.0</text>
<line x1="390.8" y1="189.5" x2="392.8" y2="189.5" stroke="#555" stroke-width="0.6"/>
<text x="388.5" y="212.9" font-size="7.8" font-family='"Liberation Serif", serif' fill="#111" font-weight="bold" text-anchor="end" stroke="#111" stroke-width="0.2">0.5</text>
<line x1="390.8" y1="210.3" x2="392.8" y2="210.3" stroke="#555" stroke-width="0.6"/>
<text x="388.5" y="233.85" font-size="7.8" font-family='"Liberation Serif", serif' fill="#111" font-weight="bold" text-anchor="end" stroke="#111" stroke-width="0.2">0.0</text>
<line x1="390.8" y1="231.25" x2="392.8" y2="231.25" stroke="#555" stroke-width="0.6"/>
<text x="388.5" y="242.6" font-size="7.8" font-family='"Liberation Serif", serif' fill="#111" font-weight="bold" text-anchor="end" stroke="#111" stroke-width="0.2">1.0</text>
<line x1="390.8" y1="240" x2="392.8" y2="240" stroke="#555" stroke-width="0.6"/>
<text x="388.5" y="263.1" font-size="7.8" font-family='"Liberation Serif", serif' fill="#111" font-weight="bold" text-anchor="end" stroke="#111" stroke-width="0.2">0.5</text>
<line x1="390.8" y1="260.5" x2="392.8" y2="260.5" stroke="#555" stroke-width="0.6"/>
<text x="388.5" y="283.6" font-size="7.8" font-family='"Liberation Serif", serif' fill="#111" font-weight="bold" text-anchor="end" stroke="#111" stroke-width="0.2">0.0</text>
<line x1="390.8" y1="281" x2="392.8" y2="281" stroke="#555" stroke-width="0.6"/>
<text x="389.05" y="295" font-size="8" font-family='"Liberation Serif", serif' fill="#111" font-weight="bold" text-anchor="middle" stroke="#111" stroke-width="0.2">-20</text>
<text x="413.5" y="295" font-size="8" font-family='"Liberation Serif", serif' fill="#111" font-weight="bold" text-anchor="middle" stroke="#111" stroke-width="0.2">0</text>
<text x="436.75" y="295" font-size="8" font-family='"Liberation Serif", serif' fill="#111" font-weight="bold" text-anchor="middle" stroke="#111" stroke-width="0.2">20</text>
<text x="460" y="295" font-size="8" font-family='"Liberation Serif", serif' fill="#111" font-weight="bold" text-anchor="middle" stroke="#111" stroke-width="0.2">40</text>
<text x="483.25" y="295" font-size="8" font-family='"Liberation Serif", serif' fill="#111" font-weight="bold" text-anchor="middle" stroke="#111" stroke-width="0.2">60</text>
<text x="506.5" y="295" font-size="8" font-family='"Liberation Serif", serif' fill="#111" font-weight="bold" text-anchor="middle" stroke="#111" stroke-width="0.2">80</text>
<text x="452.5" y="307.5" font-size="10.5" font-family='"Liberation Serif", serif' font-weight="bold" fill="#111" text-anchor="middle">Time <tspan font-size="8">(µs)</tspan></text>
<text x="368.2" y="235" font-size="10.5" font-family='"Liberation Serif", serif' font-weight="bold" fill="#111" text-anchor="middle" transform="rotate(-90 368.2 235)">I<tspan font-size="6.5" dy="2">ph</tspan><tspan dy="-2"> (a.u.)</tspan></text>
<line x1="392.5" y1="231.25" x2="413.5" y2="231.25" stroke="#a8a8a8" stroke-width="2.2"/>
<line x1="392.5" y1="240" x2="413.5" y2="240" stroke="#a8a8a8" stroke-width="2.2"/>
<polyline points="413.5,231.25 414.08,227.91 414.66,224.84 415.24,222.02 415.82,219.42 416.41,217.03 416.99,214.84 417.57,212.82 418.15,210.96 418.73,209.25 419.31,207.68 419.89,206.24 420.48,204.91 421.06,203.69 421.64,202.56 422.22,201.53 422.8,200.58 423.38,199.71 423.96,198.9 424.54,198.16 425.12,197.48 425.71,196.86 426.29,196.28 426.87,195.75 427.45,195.27 428.03,194.82 428.61,194.41 429.19,194.03 429.77,193.68 430.36,193.36 430.94,193.07 431.52,192.8 432.1,192.55 432.68,192.32 433.26,192.11 433.84,191.92 434.43,191.74 435.01,191.57 435.59,191.42 436.17,191.28 436.75,191.16 437.33,191.04 437.91,190.93 438.49,190.83 439.07,190.74 439.66,190.66 440.24,190.58 440.82,190.51 441.4,190.45 441.98,190.39 442.56,190.33 443.14,190.28 443.73,190.23 444.31,190.19 444.89,190.15 445.47,190.12 446.05,190.08 446.63,190.05 447.21,190.02 447.79,190 448.38,189.97 448.96,189.95 449.54,189.93 450.12,189.91 450.7,189.9 451.28,189.88 451.86,189.87 452.44,189.85 453.02,189.84 453.61,189.83 454.19,189.82 454.77,189.81 455.35,189.8 455.93,189.79 456.51,189.78 457.09,189.78 457.68,189.77 458.26,189.77 458.84,189.76 459.42,189.76 460,189.75 460.58,189.75 461.16,189.74 461.74,189.74 462.32,189.74 462.91,189.73 463.49,189.73 464.07,189.73 464.65,189.73 465.23,189.72 465.81,189.72 466.39,189.72 466.98,189.72 467.56,189.72 468.14,189.72 468.72,189.71 469.3,189.71 469.88,189.71 470.46,189.71 471.04,189.71 471.62,189.71 472.21,189.71 472.79,189.71 473.37,189.71 473.95,189.71 474.53,189.71 475.11,189.71 475.69,189.71 476.27,189.7 476.86,189.7 477.44,189.7 478.02,189.7 478.6,189.7 479.18,189.7 479.76,189.7 480.34,189.7 480.93,189.7 481.51,189.7 482.09,189.7 482.67,189.7 483.25,189.7 483.83,189.7 484.41,189.7 484.99,189.7 485.57,189.7 486.16,189.7 486.74,189.7 487.32,189.7 487.9,189.7 488.48,189.7 489.06,189.7 489.64,189.7 490.23,189.7 490.81,189.7 491.39,189.7 491.97,189.7 492.55,189.7 493.13,189.7 493.71,189.7 494.29,189.7 494.88,189.7 495.46,189.7 496.04,189.7 496.62,189.7 497.2,189.7 497.78,189.7 498.36,189.7 498.94,189.7 499.52,189.7 500.11,189.7 500.69,189.7" fill="none" stroke="#b0b0b0" stroke-width="2.4" stroke-linejoin="round"/>
<polyline points="413.5,240 414.08,243.48 414.66,246.67 415.24,249.59 415.82,252.26 416.41,254.71 416.99,256.95 417.57,259 418.15,260.88 418.73,262.6 419.31,264.17 419.89,265.61 420.48,266.93 421.06,268.13 421.64,269.24 422.22,270.25 422.8,271.18 423.38,272.02 423.96,272.8 424.54,273.51 425.12,274.16 425.71,274.75 426.29,275.3 426.87,275.8 427.45,276.26 428.03,276.67 428.61,277.06 429.19,277.41 429.77,277.73 430.36,278.02 430.94,278.29 431.52,278.54 432.1,278.76 432.68,278.97 433.26,279.16 433.84,279.33 434.43,279.49 435.01,279.63 435.59,279.76 436.17,279.89 436.75,280 437.33,280.1 437.91,280.19 438.49,280.28 439.07,280.36 439.66,280.43 440.24,280.49 440.82,280.55 441.4,280.61 441.98,280.66 442.56,280.7 443.14,280.74 443.73,280.78 444.31,280.82 444.89,280.85 445.47,280.88 446.05,280.91 446.63,280.93 447.21,280.95 447.79,280.98 448.38,280.99 448.96,281.01 449.54,281.03 450.12,281.04 450.7,281.06 451.28,281.07 451.86,281.08 452.44,281.09 453.02,281.1 453.61,281.11 454.19,281.12 454.77,281.12 455.35,281.13 455.93,281.13 456.51,281.14 457.09,281.15 457.68,281.15 458.26,281.15 458.84,281.16 459.42,281.16 460,281.16 460.58,281.17 461.16,281.17 461.74,281.17 462.32,281.18 462.91,281.18 463.49,281.18 464.07,281.18 464.65,281.18 465.23,281.18 465.81,281.19 466.39,281.19 466.98,281.19 467.56,281.19 468.14,281.19 468.72,281.19 469.3,281.19 469.88,281.19 470.46,281.19 471.04,281.19 471.62,281.19 472.21,281.19 472.79,281.19 473.37,281.2 473.95,281.2 474.53,281.2 475.11,281.2 475.69,281.2 476.27,281.2 476.86,281.2 477.44,281.2 478.02,281.2 478.6,281.2 479.18,281.2 479.76,281.2 480.34,281.2 480.93,281.2 481.51,281.2 482.09,281.2 482.67,281.2 483.25,281.2 483.83,281.2 484.41,281.2 484.99,281.2 485.57,281.2 486.16,281.2 486.74,281.2 487.32,281.2 487.9,281.2 488.48,281.2 489.06,281.2 489.64,281.2 490.23,281.2 490.81,281.2 491.39,281.2 491.97,281.2 492.55,281.2 493.13,281.2 493.71,281.2 494.29,281.2 494.88,281.2 495.46,281.2 496.04,281.2 496.62,281.2 497.2,281.2 497.78,281.2 498.36,281.2 498.94,281.2 499.52,281.2 500.11,281.2 500.69,281.2" fill="none" stroke="#b0b0b0" stroke-width="2.4" stroke-linejoin="round"/>
<polyline points="413.5,231.25 414.08,227.91 414.66,224.84 415.24,222.02 415.82,219.42 416.41,217.03 416.99,214.84 417.57,212.82 418.15,210.96 418.73,209.25 419.31,207.68 419.89,206.24 420.48,204.91 421.06,203.69 421.64,202.56 422.22,201.53 422.8,200.58 423.38,199.71 423.96,198.9 424.54,198.16 425.12,197.48 425.71,196.86 426.29,196.28 426.87,195.75 427.45,195.27 428.03,194.82 428.61,194.41 429.19,194.03 429.77,193.68 430.36,193.36 430.94,193.07 431.52,192.8 432.1,192.55 432.68,192.32 433.26,192.11 433.84,191.92 434.43,191.74 435.01,191.57 435.59,191.42 436.17,191.28 436.75,191.16 437.33,191.04 437.91,190.93 438.49,190.83 439.07,190.74 439.66,190.66 440.24,190.58 440.82,190.51 441.4,190.45 441.98,190.39 442.56,190.33 443.14,190.28 443.73,190.23 444.31,190.19 444.89,190.15 445.47,190.12 446.05,190.08 446.63,190.05 447.21,190.02 447.79,190 448.38,189.97 448.96,189.95 449.54,189.93 450.12,189.91 450.7,189.9 451.28,189.88 451.86,189.87 452.44,189.85 453.02,189.84 453.61,189.83 454.19,189.82 454.77,189.81 455.35,189.8 455.93,189.79 456.51,189.78 457.09,189.78 457.68,189.77 458.26,189.77 458.84,189.76 459.42,189.76 460,189.75 460.58,189.75 461.16,189.74 461.74,189.74 462.32,189.74 462.91,189.73 463.49,189.73 464.07,189.73 464.65,189.73 465.23,189.72 465.81,189.72 466.39,189.72 466.98,189.72 467.56,189.72 468.14,189.72 468.72,189.71 469.3,189.71 469.88,189.71 470.46,189.71 471.04,189.71 471.62,189.71 472.21,189.71 472.79,189.71 473.37,189.71 473.95,189.71 474.53,189.71 475.11,189.71 475.69,189.71 476.27,189.7 476.86,189.7 477.44,189.7 478.02,189.7 478.6,189.7 479.18,189.7 479.76,189.7 480.34,189.7 480.93,189.7 481.51,189.7 482.09,189.7 482.67,189.7 483.25,189.7 483.83,189.7 484.41,189.7 484.99,189.7 485.57,189.7 486.16,189.7 486.74,189.7 487.32,189.7 487.9,189.7 488.48,189.7 489.06,189.7 489.64,189.7 490.23,189.7 490.81,189.7 491.39,189.7 491.97,189.7 492.55,189.7 493.13,189.7 493.71,189.7 494.29,189.7 494.88,189.7 495.46,189.7 496.04,189.7 496.62,189.7 497.2,189.7 497.78,189.7 498.36,189.7 498.94,189.7 499.52,189.7 500.11,189.7 500.69,189.7" fill="none" stroke="#d2282c" stroke-width="1.3" stroke-linejoin="round"/>
<polyline points="413.5,240 414.08,243.48 414.66,246.67 415.24,249.59 415.82,252.26 416.41,254.71 416.99,256.95 417.57,259 418.15,260.88 418.73,262.6 419.31,264.17 419.89,265.61 420.48,266.93 421.06,268.13 421.64,269.24 422.22,270.25 422.8,271.18 423.38,272.02 423.96,272.8 424.54,273.51 425.12,274.16 425.71,274.75 426.29,275.3 426.87,275.8 427.45,276.26 428.03,276.67 428.61,277.06 429.19,277.41 429.77,277.73 430.36,278.02 430.94,278.29 431.52,278.54 432.1,278.76 432.68,278.97 433.26,279.16 433.84,279.33 434.43,279.49 435.01,279.63 435.59,279.76 436.17,279.89 436.75,280 437.33,280.1 437.91,280.19 438.49,280.28 439.07,280.36 439.66,280.43 440.24,280.49 440.82,280.55 441.4,280.61 441.98,280.66 442.56,280.7 443.14,280.74 443.73,280.78 444.31,280.82 444.89,280.85 445.47,280.88 446.05,280.91 446.63,280.93 447.21,280.95 447.79,280.98 448.38,280.99 448.96,281.01 449.54,281.03 450.12,281.04 450.7,281.06 451.28,281.07 451.86,281.08 452.44,281.09 453.02,281.1 453.61,281.11 454.19,281.12 454.77,281.12 455.35,281.13 455.93,281.13 456.51,281.14 457.09,281.15 457.68,281.15 458.26,281.15 458.84,281.16 459.42,281.16 460,281.16 460.58,281.17 461.16,281.17 461.74,281.17 462.32,281.18 462.91,281.18 463.49,281.18 464.07,281.18 464.65,281.18 465.23,281.18 465.81,281.19 466.39,281.19 466.98,281.19 467.56,281.19 468.14,281.19 468.72,281.19 469.3,281.19 469.88,281.19 470.46,281.19 471.04,281.19 471.62,281.19 472.21,281.19 472.79,281.19 473.37,281.2 473.95,281.2 474.53,281.2 475.11,281.2 475.69,281.2 476.27,281.2 476.86,281.2 477.44,281.2 478.02,281.2 478.6,281.2 479.18,281.2 479.76,281.2 480.34,281.2 480.93,281.2 481.51,281.2 482.09,281.2 482.67,281.2 483.25,281.2 483.83,281.2 484.41,281.2 484.99,281.2 485.57,281.2 486.16,281.2 486.74,281.2 487.32,281.2 487.9,281.2 488.48,281.2 489.06,281.2 489.64,281.2 490.23,281.2 490.81,281.2 491.39,281.2 491.97,281.2 492.55,281.2 493.13,281.2 493.71,281.2 494.29,281.2 494.88,281.2 495.46,281.2 496.04,281.2 496.62,281.2 497.2,281.2 497.78,281.2 498.36,281.2 498.94,281.2 499.52,281.2 500.11,281.2 500.69,281.2" fill="none" stroke="#d2282c" stroke-width="1.3" stroke-linejoin="round"/>
<text x="438" y="215.5" font-size="9.7" font-family='"Liberation Serif", serif' font-weight="bold" fill="#111">τ<tspan font-size="6" dy="1.5">r</tspan><tspan dy="-1.5"> = 5.97 µs</tspan></text>
<text x="438" y="262" font-size="9.7" font-family='"Liberation Serif", serif' font-weight="bold" fill="#111">τ<tspan font-size="6" dy="1.5">d</tspan><tspan dy="-1.5"> = 5.66 µs</tspan></text>
</g>
<g id="pf">
<text x="13.5" y="337.5" font-size="11.5" font-family='"Liberation Sans", sans-serif' fill="#000" stroke="#000" stroke-width="0.1">f</text>
<g clip-path="url(#fClip)"><rect x="21.2" y="348.5" width="134.4" height="121.1" fill="#6c66c1"/>
<polygon points="30,348.5 49,348.5 70,375 78,379.5 89,383.5 100.4,386.5 112,391 123.5,394 122,420.5 109,422 95,418.8 61,419.6 50.4,417.3 38,413.5 21.2,411 21.2,370" fill="#4560c8"/>
<polygon points="21.2,348.5 23.5,348.5 28.3,378 21.2,378" fill="#b4daf4"/>
<polygon points="23.5,348.5 28.5,348.5 33,373 27.5,373" fill="url(#fPink)"/>
<polygon points="28.5,348.5 32,348.5 36.8,373 33,373" fill="#f6ecb4"/>
<polygon points="21.2,373 39.6,373 40.6,380 21.2,380.5" fill="#e8e4f6"/>
<polygon points="21.2,380 40.6,380 46,401.5 38,406 21.2,403.5" fill="#66c2f0"/>
<polygon points="21.2,380 33,380 37,392 21.2,396" fill="#96daf4"/>
<polygon points="21.2,393 34,390 42,402 35,404.5 21.2,400" fill="#3f88de"/>
<polygon points="33,380 40.6,380 44.5,396 39,397" fill="#4ca8ea"/>
<polygon points="38,410.4 45.8,410.8 50,414 42,413.5" fill="#4ca8ea"/>
<polygon points="79.4,398 100,395.5 123.5,393.8 142,390 155.6,402 155.6,432.7 146.5,427.3 135.8,423.5 120.4,421 102,422.2 92.4,414.4" fill="url(#fCy)"/>
<path d="M122,396C122.5,398 123.5,404.5 125,408C126.5,411.5 129.17,414.42 131,417C132.83,419.58 135.17,422.42 136,423.5" fill="none" stroke="#3f8ee0" stroke-width="0" stroke-linejoin="round"/>
<path d="M120.5,394 L123,395 C123,405 130,417 136,423.5 L120.4,420.4 Z" fill="#3f90e2"/>
<path d="M143.5,391 L155.6,402 L155.6,432.7 C150,425 146,410 143.5,397 Z" fill="#d8f2fa"/>
<polygon points="124,393.7 124.8,392.4 125.6,393.5 125.6,393.38 126.4,392.08 127.2,393.18 127.2,393.06 128,391.76 128.8,392.86 128.8,392.74 129.6,391.44 130.4,392.54 130.4,392.42 131.2,391.12 132,392.22 132,392.1 132.8,390.8 133.6,391.9 133.6,391.78 134.4,390.48 135.2,391.58 135.2,391.46 136,390.16 136.8,391.26 136.8,391.14 137.6,389.84 138.4,390.94 138.4,390.82 139.2,389.52 140,390.62 140,390.5 140.8,389.2 141.6,390.3 141.6,390.18 142.4,388.88 143.2,389.98 142,392 124,395" fill="#86d8f2"/>
<polygon points="106.5,348.5 155.6,348.5 155.6,367 146.5,375.4 135.8,369.2 123.5,360 114.2,356.2" fill="url(#fLav)"/>
<circle cx="148" cy="371.5" r="2" fill="#de6cb0"/>
<line x1="143.5" y1="362" x2="148" y2="371" stroke="#cf8cc8" stroke-width="0.7"/>
<polygon points="48,348.5 61,348.5 76.5,375.5 69.5,377" fill="#ffffff"/>
<rect x="57.3" y="376.2" width="30" height="3.1" fill="#fdeee8"/>
<rect x="63.5" y="376.5" width="7" height="2.5" fill="#f2c27c"/>
<polygon points="21.2,403.5 32,404.5 36,405.5 36,409 32,410 21.2,411" fill="#ffffff"/>
<polygon points="34,405 46,405.2 46,408.8 34,409.2" fill="#ee4c88"/>
<rect x="45.5" y="404.4" width="15" height="5" fill="#f6aca4"/>
<rect x="59.6" y="389" width="6.2" height="32" fill="#f7b8a4"/>
<rect x="60.5" y="415" width="4.4" height="6" fill="#fbe2d8"/>
<rect x="73.2" y="388" width="4.1" height="30.5" fill="#f7b8a4"/>
<polygon points="73,418 77.5,418 77.8,434.5 66.5,455 59,469.6 50,469.6 59.3,455 72,436" fill="#ffffff"/>
<rect x="90.4" y="387.7" width="5.2" height="29" fill="#f7b8a4"/>
<rect x="90.8" y="399.5" width="4.2" height="15.5" fill="#ea5890"/>
<polygon points="90.8,416 95.9,416 95.9,438.5 117.5,469.6 110,469.6 90.8,441" fill="#ffffff"/>
<rect x="101" y="393.5" width="5.1" height="28.5" fill="#f7b8a4"/>
<rect x="101" y="376.5" width="5.1" height="17.2" fill="#ffffff"/>
<polygon points="101,377.5 105.9,377.5 117.3,358 112,356" fill="#ffffff"/>
<rect x="115.4" y="392.2" width="5.2" height="28.2" fill="#f8b090"/>
<rect x="115.4" y="386.5" width="5.2" height="6" fill="#ffffff"/>
<polygon points="120,399.2 126,400.3 131,401 131,402.2 126,403 120,404" fill="#f49070"/>
<line x1="131" y1="401.6" x2="145" y2="401.6" stroke="#a880c8" stroke-width="0.9"/>
<polygon points="150,447 155.6,443 155.6,452" fill="#e8e0f4"/>
<polygon points="76.6,464.5 80,464 83,469.6 79,469.6" fill="#7cc8f0"/>
<polygon points="112,466 117,465 118,469.6 112,469.6" fill="#e8f4fc"/>
<path d="M39,373C42.17,373.25 51.5,373.42 58,374.5C64.5,375.58 72.83,378 78,379.5C83.17,381 85.27,382.33 89,383.5C92.73,384.67 96.57,385.25 100.4,386.5C104.23,387.75 108.23,389.75 112,391C115.77,392.25 121.17,393.5 123,394" fill="none" stroke="#5cc08c" stroke-width="0.8" stroke-linejoin="round" stroke-dasharray="1 1.2"/>
<path d="M30,410C31.33,410.58 34.6,412.28 38,413.5C41.4,414.72 46.57,416.28 50.4,417.3C54.23,418.32 53.57,419.35 61,419.6C68.43,419.85 87,418.4 95,418.8C103,419.2 103.5,421.3 109,422C114.5,422.7 124.83,422.83 128,423" fill="none" stroke="#86ccb8" stroke-width="0.7" stroke-linejoin="round" stroke-dasharray="1 1.2"/>
<path d="M78,397.7C81.67,397.33 92.42,396.15 100,395.5C107.58,394.85 116.5,394.72 123.5,393.8C130.5,392.88 138.92,390.63 142,390" fill="none" stroke="#e04070" stroke-width="0.7" stroke-linejoin="round" stroke-dasharray="1 1.2"/>
<text x="38.5" y="371" font-size="8.5" font-family='"Liberation Sans", sans-serif' fill="#52c090" textLength="25" lengthAdjust="spacingAndGlyphs" stroke="#52c090" stroke-width="0.2">GaTe</text>
<text x="122" y="434.5" font-size="9" font-family='"Liberation Sans", sans-serif' fill="#d42454" textLength="21.5" lengthAdjust="spacingAndGlyphs" stroke="#d42454" stroke-width="0.2">InSe</text>
<text x="129" y="457.2" font-size="10.5" font-family='"Liberation Sans", sans-serif' fill="#fff" font-weight="bold" textLength="24" lengthAdjust="spacingAndGlyphs" stroke="#fff" stroke-width="0.2">7 µm</text>
<rect x="134.5" y="460.6" width="12.8" height="2.2" fill="#fff"/>
<text x="26.2" y="415.6" font-size="9" font-family='"Liberation Sans", sans-serif' fill="#141428" stroke="#141428" stroke-width="0.3">1</text>
<text x="68.8" y="439.3" font-size="9" font-family='"Liberation Sans", sans-serif' fill="#141428" stroke="#141428" stroke-width="0.3">2</text>
<text x="92.5" y="438.4" font-size="9" font-family='"Liberation Sans", sans-serif' fill="#141428" stroke="#141428" stroke-width="0.3">3</text>
<text x="100.6" y="379.2" font-size="9" font-family='"Liberation Sans", sans-serif' fill="#141428" stroke="#141428" stroke-width="0.3">4</text>
<text x="115" y="384" font-size="9" font-family='"Liberation Sans", sans-serif' fill="#141428" stroke="#141428" stroke-width="0.3">5</text></g>
</g>
<g id="pg">
<text x="178.5" y="338.5" font-size="11.5" font-family='"Liberation Sans", sans-serif' fill="#000" stroke="#000" stroke-width="0.1">g</text>
<rect x="202.5" y="350.5" width="152" height="112.2" fill="none" stroke="#222" stroke-width="1"/>
<rect x="201" y="437.8" width="3" height="2.2" fill="#fff"/>
<line x1="200.5" y1="439.8" x2="204.5" y2="437.6" stroke="#444" stroke-width="0.6"/>
<line x1="200.5" y1="441" x2="204.5" y2="438.8" stroke="#444" stroke-width="0.6"/>
<rect x="353" y="437.8" width="3" height="2.2" fill="#fff"/>
<line x1="352.5" y1="439.8" x2="356.5" y2="437.6" stroke="#444" stroke-width="0.6"/>
<line x1="352.5" y1="441" x2="356.5" y2="438.8" stroke="#444" stroke-width="0.6"/>
<line x1="202.5" y1="362" x2="204.7" y2="362" stroke="#333" stroke-width="0.6"/>
<text x="200" y="364.2" font-size="6.3" font-family='"Liberation Sans", sans-serif' fill="#222" text-anchor="end">10<tspan font-size="4" dy="-2.4">2</tspan></text>
<line x1="202.5" y1="375" x2="204.7" y2="375" stroke="#333" stroke-width="0.6"/>
<text x="200" y="377.2" font-size="6.3" font-family='"Liberation Sans", sans-serif' fill="#222" text-anchor="end">10<tspan font-size="4" dy="-2.4">1</tspan></text>
<line x1="202.5" y1="388" x2="204.7" y2="388" stroke="#333" stroke-width="0.6"/>
<text x="200" y="390.2" font-size="6.3" font-family='"Liberation Sans", sans-serif' fill="#222" text-anchor="end">10<tspan font-size="4" dy="-2.4">0</tspan></text>
<line x1="202.5" y1="401.25" x2="204.7" y2="401.25" stroke="#333" stroke-width="0.6"/>
<text x="200" y="403.45" font-size="6.3" font-family='"Liberation Sans", sans-serif' fill="#222" text-anchor="end">10<tspan font-size="4" dy="-2.4">-1</tspan></text>
<line x1="202.5" y1="414.5" x2="204.7" y2="414.5" stroke="#333" stroke-width="0.6"/>
<text x="200" y="416.7" font-size="6.3" font-family='"Liberation Sans", sans-serif' fill="#222" text-anchor="end">10<tspan font-size="4" dy="-2.4">-2</tspan></text>
<line x1="202.5" y1="427.5" x2="204.7" y2="427.5" stroke="#333" stroke-width="0.6"/>
<text x="200" y="429.7" font-size="6.3" font-family='"Liberation Sans", sans-serif' fill="#222" text-anchor="end">10<tspan font-size="4" dy="-2.4">-3</tspan></text>
<line x1="202.5" y1="439.5" x2="204.7" y2="439.5" stroke="#333" stroke-width="0.6"/>
<text x="200" y="441.7" font-size="6.3" font-family='"Liberation Sans", sans-serif' fill="#222" text-anchor="end">10<tspan font-size="4" dy="-2.4">-4</tspan></text>
<text x="199.3" y="463.5" font-size="6.9" font-family='"Liberation Sans", sans-serif' fill="#1a1a1a" text-anchor="end" stroke="#1a1a1a" stroke-width="0.2">0</text>
<line x1="213.5" y1="462.7" x2="213.5" y2="460.5" stroke="#333" stroke-width="0.6"/>
<text x="213.5" y="471.5" font-size="6.9" font-family='"Liberation Sans", sans-serif' fill="#1a1a1a" text-anchor="middle" stroke="#1a1a1a" stroke-width="0.2">400</text>
<line x1="235.36" y1="462.7" x2="235.36" y2="460.5" stroke="#333" stroke-width="0.6"/>
<text x="235.36" y="471.5" font-size="6.9" font-family='"Liberation Sans", sans-serif' fill="#1a1a1a" text-anchor="middle" stroke="#1a1a1a" stroke-width="0.2">600</text>
<line x1="257.22" y1="462.7" x2="257.22" y2="460.5" stroke="#333" stroke-width="0.6"/>
<text x="257.22" y="471.5" font-size="6.9" font-family='"Liberation Sans", sans-serif' fill="#1a1a1a" text-anchor="middle" stroke="#1a1a1a" stroke-width="0.2">800</text>
<line x1="279.08" y1="462.7" x2="279.08" y2="460.5" stroke="#333" stroke-width="0.6"/>
<text x="279.08" y="471.5" font-size="6.9" font-family='"Liberation Sans", sans-serif' fill="#1a1a1a" text-anchor="middle" stroke="#1a1a1a" stroke-width="0.2">1000</text>
<line x1="300.94" y1="462.7" x2="300.94" y2="460.5" stroke="#333" stroke-width="0.6"/>
<text x="300.94" y="471.5" font-size="6.9" font-family='"Liberation Sans", sans-serif' fill="#1a1a1a" text-anchor="middle" stroke="#1a1a1a" stroke-width="0.2">1200</text>
<line x1="322.8" y1="462.7" x2="322.8" y2="460.5" stroke="#333" stroke-width="0.6"/>
<text x="322.8" y="471.5" font-size="6.9" font-family='"Liberation Sans", sans-serif' fill="#1a1a1a" text-anchor="middle" stroke="#1a1a1a" stroke-width="0.2">1400</text>
<line x1="344.66" y1="462.7" x2="344.66" y2="460.5" stroke="#333" stroke-width="0.6"/>
<text x="344.66" y="471.5" font-size="6.9" font-family='"Liberation Sans", sans-serif' fill="#1a1a1a" text-anchor="middle" stroke="#1a1a1a" stroke-width="0.2">1600</text>
<line x1="202.57" y1="462.7" x2="202.57" y2="461.4" stroke="#333" stroke-width="0.5"/>
<line x1="224.43" y1="462.7" x2="224.43" y2="461.4" stroke="#333" stroke-width="0.5"/>
<line x1="246.29" y1="462.7" x2="246.29" y2="461.4" stroke="#333" stroke-width="0.5"/>
<line x1="268.15" y1="462.7" x2="268.15" y2="461.4" stroke="#333" stroke-width="0.5"/>
<line x1="290.01" y1="462.7" x2="290.01" y2="461.4" stroke="#333" stroke-width="0.5"/>
<line x1="311.87" y1="462.7" x2="311.87" y2="461.4" stroke="#333" stroke-width="0.5"/>
<line x1="333.73" y1="462.7" x2="333.73" y2="461.4" stroke="#333" stroke-width="0.5"/>
<text x="278.3" y="483.4" font-size="9.3" font-family='"Liberation Sans", sans-serif' fill="#222" text-anchor="middle" textLength="65.5" lengthAdjust="spacingAndGlyphs" stroke="#222" stroke-width="0.2">Wavelength (nm)</text>
<text x="182" y="412" font-size="9" font-family='"Liberation Sans", sans-serif' fill="#222" text-anchor="middle" transform="rotate(-90 182 412)"><tspan font-style="italic">R</tspan><tspan font-size="4.5" dy="1.5">λ</tspan><tspan dy="-1.5"> (A W</tspan><tspan font-size="4.5" dy="-3">-1</tspan><tspan dy="3">)</tspan></text>
<line x1="277.5" y1="352" x2="277.5" y2="462" stroke="#7468b8" stroke-width="0.65" stroke-dasharray="2.2 2.2"/>
<line x1="279" y1="355" x2="353.5" y2="355" stroke="#4a4aa8" stroke-width="0.6"/>
<polygon points="353.5,355 350.7,356.1 350.7,353.9" fill="#4a4aa8"/>
<polygon points="279,355 281.8,353.9 281.8,356.1" fill="#4a4aa8"/>
<text x="290.5" y="363.8" font-size="6.6" font-family='"Liberation Sans", sans-serif' fill="#5252b8" textLength="58.5" lengthAdjust="spacingAndGlyphs" stroke="#5252b8" stroke-width="0.2">Interlayer transition</text>
<text x="293.2" y="446.6" font-size="6.6" font-family='"Liberation Sans", sans-serif' fill="#5252b8" textLength="55.5" lengthAdjust="spacingAndGlyphs" stroke="#5252b8" stroke-width="0.2">No photoresponse</text>
<text x="300" y="454.2" font-size="6.6" font-family='"Liberation Sans", sans-serif' fill="#5252b8" textLength="33.5" lengthAdjust="spacingAndGlyphs" stroke="#5252b8" stroke-width="0.2">(λ≥992 nm)</text>
<text x="218" y="448.2" font-size="6.5" font-family='"Liberation Sans", sans-serif' fill="#222"><tspan font-style="italic">V</tspan><tspan font-size="4" dy="1.3">ds</tspan><tspan dy="-1.3">=1 V</tspan></text>
<polyline points="213.9,390 227.7,401.25 240.8,405 257.8,411.25 276.4,413.75" fill="none" stroke="#1e8a3c" stroke-width="0.9" stroke-linejoin="round" stroke-dasharray="5 1.6"/>
<polyline points="276.4,413.75 285.6,462.7 338.5,462.7" fill="none" stroke="#4a9a62" stroke-width="0.8" stroke-linejoin="round"/>
<polyline points="213.9,421.25 227.7,420 240.8,421.25 257.8,430" fill="none" stroke="#2c3ca8" stroke-width="0.9" stroke-linejoin="round" stroke-dasharray="7 1.6"/>
<polyline points="257.8,430 277,462.5" fill="none" stroke="#5a68b8" stroke-width="0.8" stroke-linejoin="round"/>
<polyline points="213.9,366.5 227.7,368 240.8,371.5 257.8,372.5 276.4,377.3 285.3,380.6 338,385" fill="none" stroke="#e0202a" stroke-width="0.8" stroke-linejoin="round"/>
<g clip-path="url(#gClip)">
<polygon points="213.9,418.65 216.6,423.15 211.2,423.15" fill="#2c3ca8" stroke="#1a2470" stroke-width="0.4"/>
<polygon points="227.7,417.4 230.4,421.9 225,421.9" fill="#2c3ca8" stroke="#1a2470" stroke-width="0.4"/>
<polygon points="240.8,418.65 243.5,423.15 238.1,423.15" fill="#2c3ca8" stroke="#1a2470" stroke-width="0.4"/>
<polygon points="257.8,427.4 260.5,431.9 255.1,431.9" fill="#2c3ca8" stroke="#1a2470" stroke-width="0.4"/>
<polygon points="277,459.9 279.7,464.4 274.3,464.4" fill="#2c3ca8" stroke="#1a2470" stroke-width="0.4"/>
<rect x="211.8" y="387.9" width="4.2" height="4.2" fill="#1e8a3c" stroke="#0f5a22" stroke-width="0.4"/>
<rect x="225.6" y="399.15" width="4.2" height="4.2" fill="#1e8a3c" stroke="#0f5a22" stroke-width="0.4"/>
<rect x="238.7" y="402.9" width="4.2" height="4.2" fill="#1e8a3c" stroke="#0f5a22" stroke-width="0.4"/>
<rect x="255.7" y="409.15" width="4.2" height="4.2" fill="#1e8a3c" stroke="#0f5a22" stroke-width="0.4"/>
<rect x="274.3" y="411.65" width="4.2" height="4.2" fill="#1e8a3c" stroke="#0f5a22" stroke-width="0.4"/>
<rect x="283.5" y="460.6" width="4.2" height="4.2" fill="#1e8a3c" stroke="#0f5a22" stroke-width="0.4"/>
<rect x="336.4" y="460.6" width="4.2" height="4.2" fill="#1e8a3c" stroke="#0f5a22" stroke-width="0.4"/>
<circle cx="213.9" cy="366.5" r="2.7" fill="url(#gBall)"/>
<circle cx="227.7" cy="368" r="2.7" fill="url(#gBall)"/>
<circle cx="240.8" cy="371.5" r="2.7" fill="url(#gBall)"/>
<circle cx="257.8" cy="372.5" r="2.7" fill="url(#gBall)"/>
<circle cx="276.4" cy="377.3" r="2.7" fill="url(#gBall)"/>
<circle cx="285.3" cy="380.6" r="2.7" fill="url(#gBall)"/>
<circle cx="338" cy="385" r="2.7" fill="url(#gBall)"/>
</g>
<line x1="297.5" y1="403.25" x2="311.5" y2="403.25" stroke="#e0202a" stroke-width="0.8"/>
<circle cx="305" cy="403.25" r="2.5" fill="url(#gBall)"/>
<line x1="297.5" y1="411.75" x2="311.5" y2="411.75" stroke="#1e8a3c" stroke-width="0.9" stroke-dasharray="4.5 1.5"/>
<rect x="303" y="409.75" width="4" height="4" fill="#1e8a3c"/>
<line x1="297.5" y1="420" x2="311.5" y2="420" stroke="#2c3ca8" stroke-width="0.9"/>
<polygon points="305,417 308,422 302,422" fill="#2c3ca8"/>
<text x="314.5" y="405.6" font-size="7.2" font-family='"Liberation Sans", sans-serif' fill="#333" textLength="34.5" lengthAdjust="spacingAndGlyphs" stroke="#333" stroke-width="0.2">GaTe/InSe</text>
<text x="314.5" y="414.1" font-size="7.2" font-family='"Liberation Sans", sans-serif' fill="#333" textLength="14.5" lengthAdjust="spacingAndGlyphs" stroke="#333" stroke-width="0.2">InSe</text>
<text x="314.5" y="422.4" font-size="7.2" font-family='"Liberation Sans", sans-serif' fill="#333" textLength="18" lengthAdjust="spacingAndGlyphs" stroke="#333" stroke-width="0.2">GaTe</text>
</g>
<g id="ph">
<text x="368.5" y="338" font-size="11.5" font-family='"Liberation Sans", sans-serif' fill="#000" stroke="#000" stroke-width="0.1">h</text>
<text x="402" y="354.8" font-size="6.6" font-family='"Liberation Sans", sans-serif' fill="#222" textLength="75.5" lengthAdjust="spacingAndGlyphs">0.55 eV &lt; hν &lt; <tspan font-style="italic">E</tspan><tspan font-size="4" dy="1.3">g-e</tspan><tspan dy="-1.3"> &lt;</tspan><tspan font-style="italic">E</tspan><tspan font-size="4" dy="1.3">g-n</tspan></text>
<rect x="389.5" y="361" width="49" height="32.7" fill="url(#hB1)"/>
<rect x="389.5" y="429.7" width="49" height="33" fill="url(#hB2)"/>
<rect x="439.5" y="371" width="49" height="45.5" fill="url(#hR1)"/>
<rect x="439.5" y="442.7" width="49" height="19.6" fill="url(#hR2)"/>
<text x="365" y="394.8" font-size="7.2" font-family='"Liberation Sans", sans-serif' fill="#222" textLength="23.5" lengthAdjust="spacingAndGlyphs" stroke="#222" stroke-width="0.2">– 3.2 eV</text>
<text x="365" y="431" font-size="7.2" font-family='"Liberation Sans", sans-serif' fill="#222" textLength="23.5" lengthAdjust="spacingAndGlyphs" stroke="#222" stroke-width="0.2">– 4.9 eV</text>
<text x="490" y="420.8" font-size="7.2" font-family='"Liberation Sans", sans-serif' fill="#222" textLength="27.5" lengthAdjust="spacingAndGlyphs" stroke="#222" stroke-width="0.2">– 4.35 eV</text>
<text x="490" y="443.4" font-size="7.2" font-family='"Liberation Sans", sans-serif' fill="#222" textLength="27.5" lengthAdjust="spacingAndGlyphs" stroke="#222" stroke-width="0.2">– 5.65 eV</text>
<text x="412" y="470.8" font-size="7.5" font-family='"Liberation Sans", sans-serif' fill="#2a2a2a" text-anchor="middle" textLength="21.5" lengthAdjust="spacingAndGlyphs" stroke="#2a2a2a" stroke-width="0.2">p-GaTe</text>
<text x="412" y="479" font-size="7.5" font-family='"Liberation Sans", sans-serif' fill="#2a2a2a" text-anchor="middle" textLength="28" lengthAdjust="spacingAndGlyphs" stroke="#2a2a2a" stroke-width="0.2">(1.70 eV)</text>
<text x="463.75" y="470.8" font-size="7.5" font-family='"Liberation Sans", sans-serif' fill="#2a2a2a" text-anchor="middle" textLength="19.5" lengthAdjust="spacingAndGlyphs" stroke="#2a2a2a" stroke-width="0.2">n-InSe</text>
<text x="463.75" y="479" font-size="7.5" font-family='"Liberation Sans", sans-serif' fill="#2a2a2a" text-anchor="middle" textLength="28" lengthAdjust="spacingAndGlyphs" stroke="#2a2a2a" stroke-width="0.2">(1.30 eV)</text>
<line x1="402" y1="428" x2="402" y2="394.8" stroke="#161616" stroke-width="1.2"/>
<polygon points="402,394.8 403.9,398.2 400.1,398.2" fill="#161616"/>
<line x1="475.5" y1="441" x2="475.5" y2="418" stroke="#161616" stroke-width="1.2"/>
<polygon points="475.5,418 477.4,421.4 473.6,421.4" fill="#161616"/>
<ellipse cx="402" cy="411.3" rx="2.2" ry="1.25" fill="#dc1c26"/>
<ellipse cx="402" cy="414.7" rx="2.2" ry="1.25" fill="#dc1c26"/>
<ellipse cx="475.5" cy="428.3" rx="2.2" ry="1.25" fill="#dc1c26"/>
<ellipse cx="475.5" cy="431.7" rx="2.2" ry="1.25" fill="#dc1c26"/>
<ellipse cx="439" cy="422.8" rx="16" ry="5.6" fill="none" stroke="#d838c8" stroke-width="0.7" transform="rotate(-19 439 422.8)"/>
<line x1="418.5" y1="416.25" x2="438.5" y2="416.25" stroke="#d838c8" stroke-width="0.6"/>
<line x1="422.5" y1="417" x2="422.5" y2="428.3" stroke="#d838c8" stroke-width="0.6"/>
<polygon points="422.5,428.3 421.4,426.1 423.6,426.1" fill="#d838c8"/>
<polygon points="422.5,417 423.6,419.2 421.4,419.2" fill="#d838c8"/>
<text x="417.2" y="422.6" font-size="3.6" font-family='"Liberation Sans", sans-serif' fill="#d838c8" text-anchor="middle" transform="rotate(-90 417.2 422.6)" stroke="#d838c8" stroke-width="0.2">0.55 eV</text>
<circle cx="402" cy="390" r="4.6" fill="url(#hRed)"/><line x1="399.7" y1="390" x2="404.3" y2="390" stroke="#fff" stroke-width="0.9"/>
<circle cx="402" cy="431.25" r="4.6" fill="url(#hBlu)"/><line x1="399.7" y1="431.25" x2="404.3" y2="431.25" stroke="#fff" stroke-width="0.9"/><line x1="402" y1="428.95" x2="402" y2="433.55" stroke="#fff" stroke-width="0.9"/>
<circle cx="475.5" cy="413.25" r="4.6" fill="url(#hRed)"/><line x1="473.2" y1="413.25" x2="477.8" y2="413.25" stroke="#fff" stroke-width="0.9"/>
<circle cx="475.5" cy="444.5" r="4.6" fill="url(#hBlu)"/><line x1="473.2" y1="444.5" x2="477.8" y2="444.5" stroke="#fff" stroke-width="0.9"/><line x1="475.5" y1="442.2" x2="475.5" y2="446.8" stroke="#fff" stroke-width="0.9"/>
<ellipse cx="432.4" cy="426.2" rx="4.2" ry="3.5" fill="url(#hCy)"/><line x1="430.7" y1="426.3" x2="434.3" y2="426.3" stroke="#fff" stroke-width="0.9"/><line x1="432.5" y1="424.6" x2="432.5" y2="428" stroke="#fff" stroke-width="0.9"/>
<ellipse cx="450" cy="420.3" rx="4.7" ry="3.4" fill="url(#hOr)"/><line x1="448" y1="420" x2="452" y2="420" stroke="#ffe060" stroke-width="1"/>
</g>
</g>
</svg>
</body></html>
